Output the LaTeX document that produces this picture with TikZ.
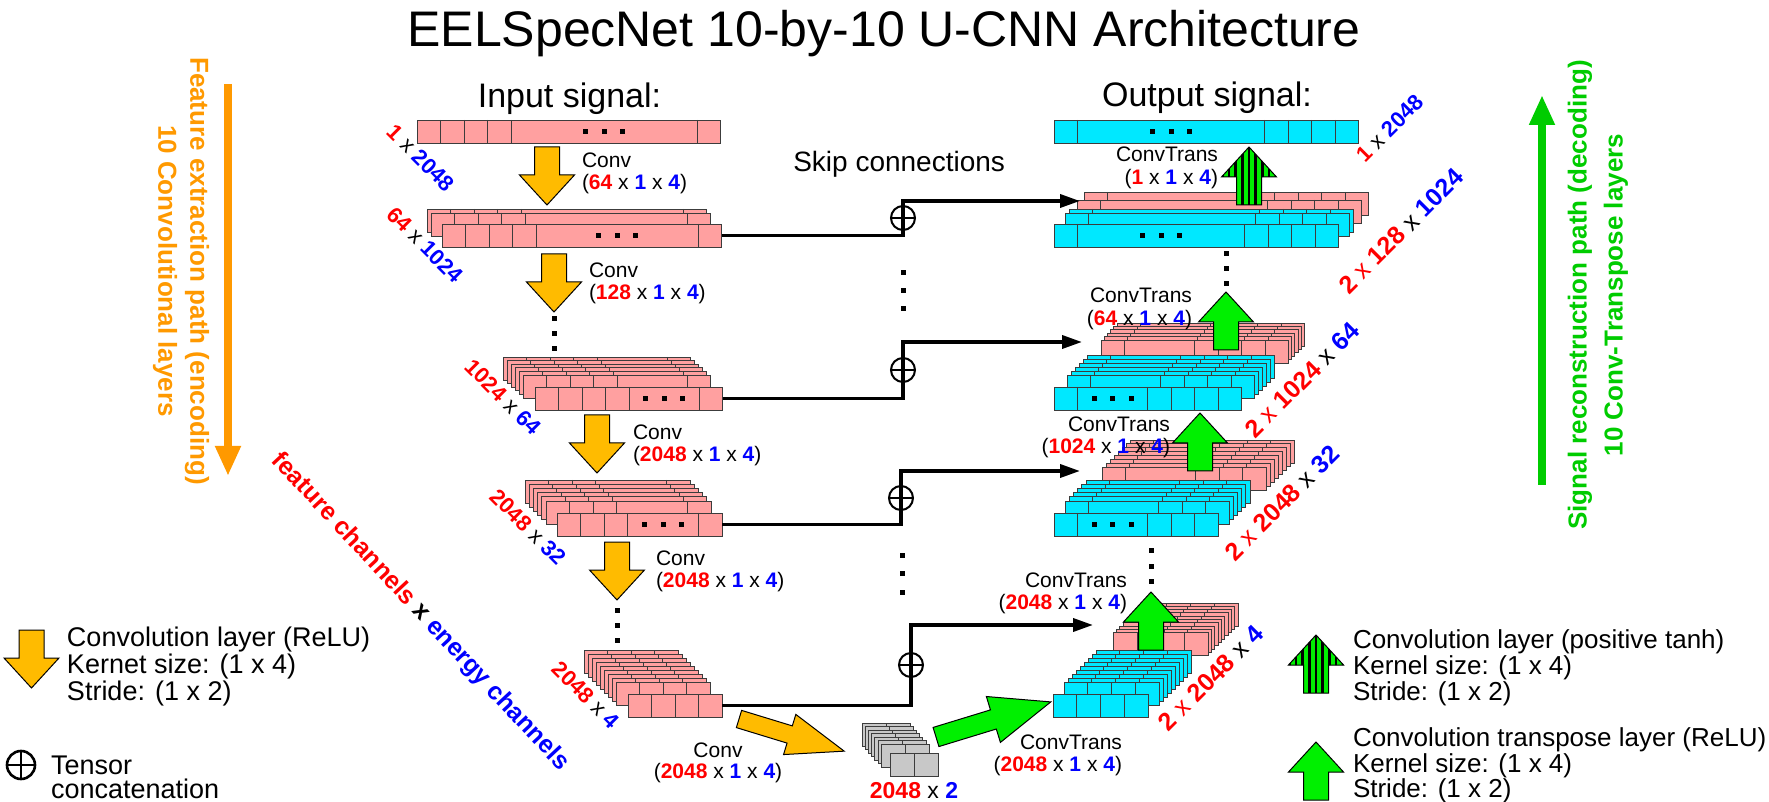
\documentclass[tikz,border=0pt]{standalone}
\usepackage{fontspec}
\setmainfont{Liberation Sans}
\usetikzlibrary{arrows.meta}
\definecolor{pinkc}{RGB}{255,160,160}
\definecolor{cyanc}{RGB}{0,232,255}
\definecolor{orangea}{RGB}{255,187,0}
\definecolor{greena}{RGB}{0,240,0}
\definecolor{oranget}{RGB}{255,153,0}
\definecolor{greent}{RGB}{0,204,0}
\definecolor{grayc}{RGB}{200,200,200}
\definecolor{redc}{RGB}{255,0,0}
\definecolor{bluec}{RGB}{0,0,255}
\definecolor{edgec}{RGB}{60,60,60}
\newcommand\fsz[2]{\fontsize{#1}{#2}\selectfont}
\newcommand\redb[1]{\textcolor{redc}{\textbf{#1}}}
\newcommand\blueb[1]{\textcolor{bluec}{\textbf{#1}}}
\tikzset{
 cell/.style={draw=edgec, line width=0.45pt},
 arrline/.style={draw=black, line width=0.5pt, line join=miter},
 skipline/.style={line width=1.8pt, line join=miter, -{Triangle[length=10pt,width=6.5pt]}},
 txt/.style={inner sep=0pt, outer sep=0pt},
 convlab/.style={txt, font=\fsz{10.5}{12}},
 dimlab/.style={txt, font=\fsz{11}{13}},
 declab/.style={txt, font=\fsz{12.5}{14}, rotate=45},
 legtxt/.style={txt, font=\fsz{13}{15}, anchor=base west},
}
% bar: x, y, width, dividers, fill
\newcommand\cbar[5]{%
 \draw[cell,fill=#5] ({#1},{#2}) rectangle ++(#3,23);
 \foreach \d in {#4} {\draw[cell] ({#1+\d},{#2}) -- ++(0,23);}%
}
% stack: bx, by, sx, sy, n, width, dividers, fill
\newcommand\cstack[8]{%
 \foreach \k in {1,...,#5} {%
  \pgfmathsetmacro\sxx{#1+(\k-1)*(#3)}%
  \pgfmathsetmacro\syy{#2+(\k-1)*(#4)}%
  \cbar{\sxx}{\syy}{#6}{#7}{#8}%
 }%
}
\newcommand\hdotsc[2]{\foreach \o in {-18.5,0,18.5} {\fill ({#1+\o-2.5},{#2-2.5}) rectangle ++(5,5);}}
\newcommand\vdotsc[4]{\foreach \yy in {#2,#3,#4} {\fill ({#1-2.5},{\yy-2.5}) rectangle ++(5,5);}}
\newcommand\downarr[3]{%
 \draw[arrline,fill=#3] ({#1-12.5},{#2}) -- ({#1+12.5},{#2}) -- ({#1+12.5},{#2+28}) -- ({#1+27.5},{#2+28}) -- ({#1},{#2+58}) -- ({#1-27.5},{#2+28}) -- ({#1-12.5},{#2+28}) -- cycle;}
\newcommand\uparr[3]{%
 \draw[arrline,fill=#3] ({#1},{#2}) -- ({#1+27.5},{#2+30}) -- ({#1+12.5},{#2+30}) -- ({#1+12.5},{#2+58}) -- ({#1-12.5},{#2+58}) -- ({#1-12.5},{#2+30}) -- ({#1-27.5},{#2+30}) -- cycle;}
\newcommand\striparr[2]{%
 \fill[greena] ({#1},{#2}) -- ({#1+27.5},{#2+30}) -- ({#1+12.5},{#2+30}) -- ({#1+12.5},{#2+58}) -- ({#1-12.5},{#2+58}) -- ({#1-12.5},{#2+30}) -- ({#1-27.5},{#2+30}) -- cycle;
 \begin{scope}
 \clip ({#1},{#2}) -- ({#1+27.5},{#2+30}) -- ({#1+12.5},{#2+30}) -- ({#1+12.5},{#2+58}) -- ({#1-12.5},{#2+58}) -- ({#1-12.5},{#2+30}) -- ({#1-27.5},{#2+30}) -- cycle;
 \foreach \s in {-4,...,4} {\draw[line width=1.3pt] ({#1+\s*6.7},{#2}) -- ({#1+\s*6.7},{#2+58});}
 \end{scope}
 \draw[arrline] ({#1},{#2}) -- ({#1+27.5},{#2+30}) -- ({#1+12.5},{#2+30}) -- ({#1+12.5},{#2+58}) -- ({#1-12.5},{#2+58}) -- ({#1-12.5},{#2+30}) -- ({#1-27.5},{#2+30}) -- cycle;}
\newcommand\cplus[2]{\draw[line width=1pt] ({#1},{#2}) circle (6pt); \draw[line width=1.1pt] ({#1-12},{#2}) -- ({#1+12},{#2});}
\begin{document}
\begin{tikzpicture}[x=0.5pt,y=-0.5pt]
\useasboundingbox (0,0) rectangle (1769,802);
% title
\node[txt,font=\fsz{25}{30},anchor=base] (title) at (884,47) {EELSpecNet 10-by-10 U-CNN Architecture};
\node[txt,font=\fsz{17}{20},anchor=base] (insig) at (569.5,108) {Input signal:};
\node[txt,font=\fsz{17}{20},anchor=base] (outsig) at (1207,107) {Output signal:};
\node[txt,font=\fsz{14}{16},anchor=base east] (skipt) at (1005,172) {Skip connections};
% side texts and arrows
\node[txt,font=\bfseries\fsz{13}{16},text=oranget,rotate=-90,align=center] (enc) at (181,271) {Feature extraction path (encoding)\\10 Convolutional layers};
\coordinate (oa1) at (228,84); \coordinate (oa2) at (228,476);
\draw[line width=4pt,oranget,-{Triangle[length=15pt,width=12pt]}] (oa1) -- (oa2);
\node[txt,font=\bfseries\fsz{13}{18},text=greent,rotate=90,align=center] (dec) at (1598,295) {Signal reconstruction path (decoding)\\10 Conv-Transpose layers};
\coordinate (ga1) at (1542,485); \coordinate (ga2) at (1542,95);
\draw[line width=4pt,greent,-{Triangle[length=15pt,width=12pt]}] (ga1) -- (ga2);
\node[txt,font=\bfseries\fsz{12.5}{14},rotate=-47] (fc) at (420,612) {\textcolor{redc}{feature channels} x \textcolor{bluec}{energy channels}};
% ===== encoder =====
\cbar{417}{120}{303.5}{23.5,47,70.5,94,280}{pinkc}
\hdotsc{604}{131.5}
\cstack{427}{209}{4}{4}{2}{279.5}{23.5,47,70.5,94,256}{pinkc}
\cbar{442}{224}{279.5}{23.5,47,70.5,94,256}{pinkc}
\hdotsc{617}{235.5}
\cstack{503}{357}{4}{3.6}{6}{187.5}{23.5,47,70.5,94,164}{pinkc}
\cbar{535}{387}{187.5}{23.5,47,70.5,94,164}{pinkc}
\hdotsc{664}{398.5}
\cstack{525}{480}{4.2}{4.2}{6}{165}{23.5,47,70.5,141.5}{pinkc}
\cbar{557}{513}{165}{23.5,47,70.5,141.5}{pinkc}
\hdotsc{663}{524.5}
\cstack{584}{650}{4}{4}{9}{94}{23.5,47,70.5}{pinkc}
\cbar{628}{694}{94}{23.5,47,70.5}{pinkc}
\cstack{862}{723}{3.2}{3.5}{7}{48}{24}{grayc}
\cbar{890}{753}{48}{24}{grayc}
% encoder labels
\node[dimlab,rotate=-45] (d0) at (421,158) {\redb{1} x \blueb{2048}};
\node[dimlab,rotate=-45] (d1) at (425,245) {\redb{64} x \blueb{1024}};
\node[dimlab,rotate=-45] (d2) at (503,397) {\redb{1024} x \blueb{64}};
\node[dimlab,rotate=-45] (d3) at (528,527) {\redb{2048} x \blueb{32}};
\node[dimlab,rotate=-45] (d4) at (586,695) {\redb{2048} x \blueb{4}};
\node[dimlab,font=\fsz{11.5}{13},anchor=base] (d5) at (914,798) {\redb{2048} x \blueb{2}};
% conv arrows
\downarr{547}{147}{orangea}
\downarr{554}{254}{orangea}
\downarr{597}{415}{orangea}
\downarr{617}{542}{orangea}
\vdotsc{554}{319}{334}{349}
\vdotsc{617}{610}{625}{640}
\begin{scope}[shift={(739,719)},rotate=-17]
\draw[arrline,fill=orangea] (0,-9) -- (53,-9) -- (53,-21) -- (110,0) -- (53,21) -- (53,9) -- (0,9) -- cycle;
\end{scope}
\node[convlab,anchor=base west] (c1a) at (582,168) {Conv};
\node[convlab,anchor=base west] (c1b) at (582,190) {(\redb{64} x \blueb{1} x \blueb{4})};
\node[convlab,anchor=base west] (c2a) at (589,278) {Conv};
\node[convlab,anchor=base west] (c2b) at (589,300) {(\redb{128} x \blueb{1} x \blueb{4})};
\node[convlab,anchor=base west] (c3a) at (633,440) {Conv};
\node[convlab,anchor=base west] (c3b) at (633,462) {(\redb{2048} x \blueb{1} x \blueb{4})};
\node[convlab,anchor=base west] (c4a) at (656,566) {Conv};
\node[convlab,anchor=base west] (c4b) at (656,588) {(\redb{2048} x \blueb{1} x \blueb{4})};
\node[convlab,anchor=base] (c5a) at (718,757) {Conv};
\node[convlab,anchor=base] (c5b) at (718,778) {(\redb{2048} x \blueb{1} x \blueb{4})};
% ===== decoder =====
\cbar{1054}{120}{304.5}{23.5,210.5,234,257.5,281}{cyanc}
\hdotsc{1171}{131.5}
\cstack{1084}{192}{-7}{8}{2}{284.5}{23.5,190.5,214,237.5,261}{pinkc}
\cstack{1069}{209}{-4}{4}{2}{284.5}{23.5,190.5,214,237.5,261}{cyanc}
\cbar{1054}{224}{284.5}{23.5,190.5,214,237.5,261}{cyanc}
\hdotsc{1161}{235.5}
\cstack{1117}{323}{-3.2}{3.4}{6}{187.5}{23.5,93.5,117,140.5,164}{pinkc}
\cstack{1087}{355}{-4}{4}{6}{187.5}{23.5,93.5,117,140.5,164}{cyanc}
\cbar{1054}{387}{187.5}{23.5,93.5,117,140.5,164}{cyanc}
\hdotsc{1112.5}{398.5}
\cstack{1130}{440}{-4}{3.9}{8}{164}{23.5,93.5,117,140.5}{pinkc}
\cstack{1086}{480}{-4.2}{4.2}{6}{164}{23.5,93.5,117,140.5}{cyanc}
\cbar{1054}{513}{164}{23.5,93.5,117,140.5}{cyanc}
\hdotsc{1112.5}{524.5}
\cstack{1143}{603}{-3.3}{3.3}{10}{95}{23.75,47.5,71.25}{pinkc}
\cstack{1096}{650}{-4}{4}{9}{95}{23.75,47.5,71.25}{cyanc}
\cbar{1053}{694}{95}{23.75,47.5,71.25}{cyanc}
% decoder labels
\node[dimlab,rotate=45] (o0) at (1390,128) {\redb{1} x \blueb{2048}};
\node[declab] (o1) at (1401,231) {\textcolor{redc}{\textbf{2} x \textbf{128}} x \blueb{1024}};
\node[declab] (o2) at (1302,380) {\textcolor{redc}{\textbf{2} x \textbf{1024}} x \blueb{64}};
\node[declab] (o3) at (1282,503) {\textcolor{redc}{\textbf{2} x \textbf{2048}} x \blueb{32}};
\node[declab] (o4) at (1211,678) {\textcolor{redc}{\textbf{2} x \textbf{2048}} x \blueb{4}};
% decoder arrows
\striparr{1249}{147}
\uparr{1226}{292}{greena}
\uparr{1200}{413}{greena}
\uparr{1151}{592}{greena}
\vdotsc{1226}{254}{269}{284}
\vdotsc{1151}{550}{566}{581}
\begin{scope}[shift={(936,737)},rotate=17]
\draw[arrline,fill=greena] (0,-10) -- (60,-10) -- (60,-24) -- (120,0) -- (60,24) -- (60,10) -- (0,10) -- cycle;
\end{scope}
\node[convlab,anchor=base east] (t1a) at (1218,162) {ConvTrans};
\node[convlab,anchor=base east] (t1b) at (1218,185) {(\redb{1} x \blueb{1} x \blueb{4})};
\node[convlab,anchor=base east] (t2a) at (1192,303) {ConvTrans};
\node[convlab,anchor=base east] (t2b) at (1192,326) {(\redb{64} x \blueb{1} x \blueb{4})};
\node[convlab,anchor=base east] (t3a) at (1170,432) {ConvTrans};
\node[convlab,anchor=base east] (t3b) at (1170,453) {(\redb{1024} x \blueb{1} x \blueb{4})};
\node[convlab,anchor=base east] (t4a) at (1127,587) {ConvTrans};
\node[convlab,anchor=base east] (t4b) at (1127,609) {(\redb{2048} x \blueb{1} x \blueb{4})};
\node[convlab,anchor=base east] (t5a) at (1122,749) {ConvTrans};
\node[convlab,anchor=base east] (t5b) at (1122,771) {(\redb{2048} x \blueb{1} x \blueb{4})};
% skip connections
\coordinate (e1) at (721.5,235.5); \coordinate (k1) at (903,201); \coordinate (s1) at (1080,201);
\coordinate (e2) at (722.5,398.5); \coordinate (k2) at (903,342); \coordinate (s2) at (1082,342);
\coordinate (e3) at (722,524.5); \coordinate (k3) at (901,471); \coordinate (s3) at (1080,471);
\coordinate (e4) at (722,705.5); \coordinate (k4) at (911,625); \coordinate (s4) at (1093,625);
\draw[skipline] (e1) -| (k1) -- (s1);
\draw[skipline] (e2) -| (k2) -- (s2);
\draw[skipline] (e3) -| (k3) -- (s3);
\draw[skipline] (e4) -| (k4) -- (s4);
\cplus{903}{218}
\cplus{903}{370}
\cplus{901}{498}
\cplus{911}{665}
\vdotsc{903}{273}{291}{309}
\vdotsc{902}{555}{573}{592}
% ===== legends =====
\downarr{31.5}{630}{orangea}
\node[legtxt,font=\fsz{13.5}{15}] (ll1) at (67,646) {Convolution layer (ReLU)};
\node[legtxt,font=\fsz{13.5}{15}] (ll2) at (67,673) {Kernet size: (1 x 4)};
\node[legtxt,font=\fsz{13.5}{15}] (ll3) at (67,700) {Stride: (1 x 2)};
\draw[line width=1.3pt] (21,765) circle (7pt);
\draw[line width=1.3pt] (7,765) -- (35,765);
\draw[line width=1.3pt] (21,751) -- (21,779);
\node[legtxt,font=\fsz{13.5}{15}] (ll4) at (51,774) {Tensor};
\node[legtxt,font=\fsz{13.5}{15}] (ll5) at (51,798) {concatenation};
\striparr{1316}{635}
\uparr{1316}{742}{greena}
\node[legtxt] (rl1) at (1353,648) {Convolution layer (positive tanh)};
\node[legtxt] (rl2) at (1353,674) {Kernel size: (1 x 4)};
\node[legtxt] (rl3) at (1353,700) {Stride: (1 x 2)};
\node[legtxt] (rl4) at (1353,746) {Convolution transpose layer (ReLU)};
\node[legtxt] (rl5) at (1353,772) {Kernel size: (1 x 4)};
\node[legtxt] (rl6) at (1353,797) {Stride: (1 x 2)};
\end{tikzpicture}
\end{document}
